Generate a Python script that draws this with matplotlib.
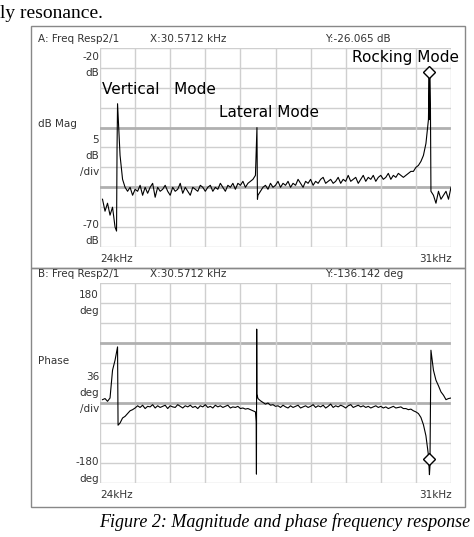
import numpy as np
import matplotlib
matplotlib.use('Agg')
import matplotlib.pyplot as plt
from matplotlib.patches import Rectangle

W, H = 474, 537

# common frequency grid (kHz) and hand-read trace values
freq = np.arange(24.05, 31.001, 0.05)

mag = ([-58, -61, -59, -62, -60, -65, -34, -47, -53, -55]
       + [-56, -55, -57, -55.5, -56, -54.5, -57, -55, -56.5, -55,
          -54, -57.5, -55, -56, -55.5, -54.5, -56, -57, -55, -56,
          -55.5, -54, -56.5, -55, -56, -57, -55, -55.5, -56, -54.5,
          -55, -56, -55, -54.5, -56, -55, -55.5, -54, -55, -56,
          -54.5, -55, -54, -55.5, -54, -54.5, -53.5, -55, -54, -53.5,
          -53]
       + [-52, -57]
       + [-56, -55, -54.5, -55.5, -54, -55, -54.5, -53.5, -55, -54,
          -54.5, -53.5, -55, -54, -54.5, -53, -54, -55, -53.5, -54,
          -53, -54.5, -53.5, -54, -53, -52.5, -54, -53.5, -53, -54,
          -53.5, -52.5, -54, -53, -53.5, -52, -53.5, -53, -52.5, -54,
          -53, -52, -53.5, -52.5, -53, -52, -53.5, -52.5, -52, -53,
          -52.5, -51.5, -53, -52, -52.5, -51.5, -52, -52.5]
       + [-52, -51.5, -51, -51, -50, -49.5, -48.5, -47, -44, -38]
       + [-56, -57, -59, -56, -58, -57, -56, -58, -55])
mag_extra_f = [24.33, 24.34, 27.13, 27.14, 30.565, 30.57, 30.575, 30.59]
mag_extra_v = [-66, -45, -40, -58, -26, -38, -26, -35]

phase = ([-30, -28, -33, -27, 23, 41, 65, -72, -63, -60, -55, -50, -48]
         + [-45, -41, -44, -40, -46, -42, -43, -39, -45, -41,
            -44, -42, -40, -46, -41, -43, -44, -39, -42, -45,
            -41, -43, -40, -44, -42, -46, -41, -43, -39, -44,
            -42, -45, -40, -43, -41, -44, -42, -40, -45, -43,
            -44, -42, -46, -45, -47, -46, -48, -50]
         + [-52, -28]
         + [-32, -35, -38, -36, -40, -39, -42, -41, -44, -40,
            -43, -45, -41, -44, -42, -40, -45, -43, -41, -44,
            -42, -39, -44, -41, -43, -40, -45, -42, -38, -44,
            -41, -43, -40, -42, -45, -41, -39, -44, -42, -40,
            -43, -41, -44, -42, -45, -43, -41, -44, -42, -45,
            -43, -46, -44, -42, -45, -44, -43, -46]
         + [-46, -48, -47, -50, -52, -55, -62, -75, -95, -130]
         + [59, 23, 5, -5, -16, -22, -30, -28, -27])
phase_extra_f = [24.36, 27.115, 27.12, 27.125, 27.13, 30.57, 30.58]
phase_extra_v = [-76, -70, -164, 97, -20, -165, -150]

marker_f = 30.5712
marker_mag = -26.065
marker_phase = -136.142


def merged(base, ef, ev):
    f = np.concatenate([freq, ef])
    v = np.concatenate([np.array(base, float), ev])
    o = np.argsort(f, kind='stable')
    return f[o], v[o]


def px(x, y):
    return x / W, 1 - y / H


fig = plt.figure(figsize=(W / 100, H / 100), dpi=100)
fig.patch.set_facecolor('white')

serif = 'Liberation Serif'
fig.text(*px(0, 14), 'ly resonance.', family=serif, fontsize=14, va='center')
fig.text(*px(470, 522), 'Figure 2: Magnitude and phase frequency response',
         family=serif, style='italic', fontsize=13, va='center', ha='right')

for y0, y1 in [(26, 268), (268, 507)]:
    fig.patches.append(Rectangle(px(31, y1), 434 / W, (y1 - y0) / H,
                                 transform=fig.transFigure, fill=False,
                                 edgecolor='#888888', lw=1))

lc = '#333333'
fs = 7.5


def panel(top, bot, ylim, thick, f, v, mval, header, labels):
    ax = fig.add_axes([100 / W, 1 - bot / H, 351 / W, (bot - top) / H])
    for s in ax.spines.values():
        s.set_visible(False)
    ax.set_xlim(24, 31)
    ax.set_ylim(*ylim)
    ax.set_xticks([]); ax.set_yticks([])
    for k in range(11):
        ax.axvline(24 + 0.7 * k, color='#cfcfcf', lw=1, zorder=0)
        yy = ylim[1] - (ylim[1] - ylim[0]) * k / 10
        ax.axhline(yy, color='#b0b0b0' if k in thick else '#cfcfcf',
                   lw=2 if k in thick else 1, zorder=0)
    ax.plot(f, v, color='black', lw=0.8)
    ax.plot([marker_f], [mval], marker='D', ms=6, mfc='white', mec='black', mew=1)
    fig.text(*px(38, top - 9), header[0], fontsize=fs, color=lc, va='center')
    fig.text(*px(150, top - 9), header[1], fontsize=fs, color=lc, va='center')
    fig.text(*px(325, top - 9), header[2], fontsize=fs, color=lc, va='center')
    for x, y, s, ha in labels:
        fig.text(*px(x, y), s, fontsize=fs, color=lc, va='center', ha=ha)
    fig.text(*px(100, bot + 12), '24kHz', fontsize=fs, color=lc, va='center')
    fig.text(*px(452, bot + 12), '31kHz', fontsize=fs, color=lc, va='center', ha='right')
    return ax


fm, vm = merged(mag, mag_extra_f, mag_extra_v)
panel(48, 247, (-70, -20), (4, 7), fm, vm, marker_mag,
      ['A: Freq Resp2/1', 'X:30.5712 kHz', 'Y:-26.065 dB'],
      [(99, 57, '-20', 'right'), (99, 73, 'dB', 'right'), (38, 124, 'dB Mag', 'left'),
       (99, 140, '5', 'right'), (99, 156, 'dB', 'right'), (99, 172, '/div', 'right'),
       (99, 225, '-70', 'right'), (99, 241, 'dB', 'right')])
fig.text(*px(102, 90), 'Vertical   Mode', fontsize=11, va='center')
fig.text(*px(219, 113), 'Lateral Mode', fontsize=11, va='center')
fig.text(*px(352, 57), 'Rocking Mode', fontsize=11, va='center')

fp, vp = merged(phase, phase_extra_f, phase_extra_v)
panel(283, 483, (-180, 180), (3, 6), fp, vp, marker_phase,
      ['B: Freq Resp2/1', 'X:30.5712 kHz', 'Y:-136.142 deg'],
      [(99, 295, '180', 'right'), (99, 311, 'deg', 'right'), (38, 361, 'Phase', 'left'),
       (99, 377, '36', 'right'), (99, 393, 'deg', 'right'), (99, 409, '/div', 'right'),
       (99, 462, '-180', 'right'), (99, 479, 'deg', 'right')])

fig.savefig('out.png', dpi=100)
